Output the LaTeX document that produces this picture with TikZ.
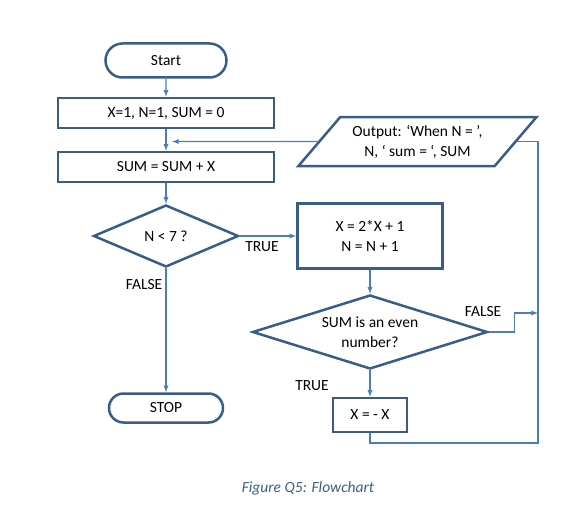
\documentclass[tikz,border=0pt]{standalone}
\usepackage{fontspec}
\setmainfont{Carlito}
\usetikzlibrary{shapes.geometric,shapes.misc}
\definecolor{edgeblue}{RGB}{56,93,138}
\definecolor{linkblue}{RGB}{74,126,187}
\definecolor{capblue}{RGB}{54,95,145}
\begin{document}
\begin{tikzpicture}[>=latex, x=1pt, y=-1pt,
    every node/.style={font=\fontsize{15.5}{20}\selectfont, inner sep=0pt},
    proc/.style={draw=edgeblue, line width=2.5pt, rectangle, align=center},
    term/.style={draw=edgeblue, line width=2.5pt, rounded rectangle},
    dec/.style={draw=edgeblue, line width=2.5pt, diamond, align=center},
    link/.style={draw=linkblue, line width=1.3pt}]
\useasboundingbox (0,0) rectangle (576,511);
\node[term, minimum width=121pt, minimum height=34pt] (start) at (166,60.5) {Start};
\node[proc, minimum width=216pt, minimum height=30pt] (init) at (166,113) {X=1, N=1, SUM = 0};
\node[proc, minimum width=216pt, minimum height=30pt] (acc) at (166,167) {SUM = SUM + X};
\node[dec, aspect=2.3, minimum width=145pt, minimum height=62pt] (ntest) at (166,236) {N < 7 ?};
\node[proc, minimum width=145pt, minimum height=65pt] (upd) at (370,236) {X = 2*X + 1\\N = N + 1};
\node[dec, aspect=3.2, minimum width=235pt, minimum height=74pt] (even) at (370,332) {SUM is an even\\number?};
\node[proc, minimum width=74pt, minimum height=34pt] (neg) at (370,415) {X = - X};
\node[term, minimum width=114pt, minimum height=29pt] (stop) at (166,408) {STOP};
\node[draw=edgeblue, line width=2.5pt, trapezium, trapezium left angle=34, trapezium right angle=146,
    trapezium stretches=true, inner xsep=-40pt, inner ysep=-12pt, minimum width=239pt, minimum height=49pt,
    align=center] (out) at (417.5,141.5) {Output: ‘When N = ’,\\N, ‘ sum = ‘, SUM};
\coordinate (back) at (172,141.5);
\coordinate (rb) at (538,443);
\coordinate (fj) at (538,313);
\draw[link,->] (start) -- (init);
\draw[link,->] (init) -- (acc);
\draw[link,->] (acc) -- (ntest);
\draw[link,->] (ntest) -- (upd);
\draw[link,->] (upd) -- (even);
\draw[link,->] (ntest) -- (stop);
\draw[link,->] (even) -- (neg);
\draw[link,->] (out.west) -- (back);
\draw[link] (neg) |- (rb) |- (out.east);
\draw[link,->] (even.east) -- ++(26,0) |- (fj);
\node (yes1) at (262,247) {TRUE};
\node (no1) at (144,285) {FALSE};
\node (no2) at (483,312) {FALSE};
\node (yes2) at (312,386) {TRUE};
\node[text=capblue, font=\fontsize{15.5}{20}\selectfont\itshape] (cap) at (308,488) {Figure Q5: Flowchart};
\end{tikzpicture}
\end{document}
